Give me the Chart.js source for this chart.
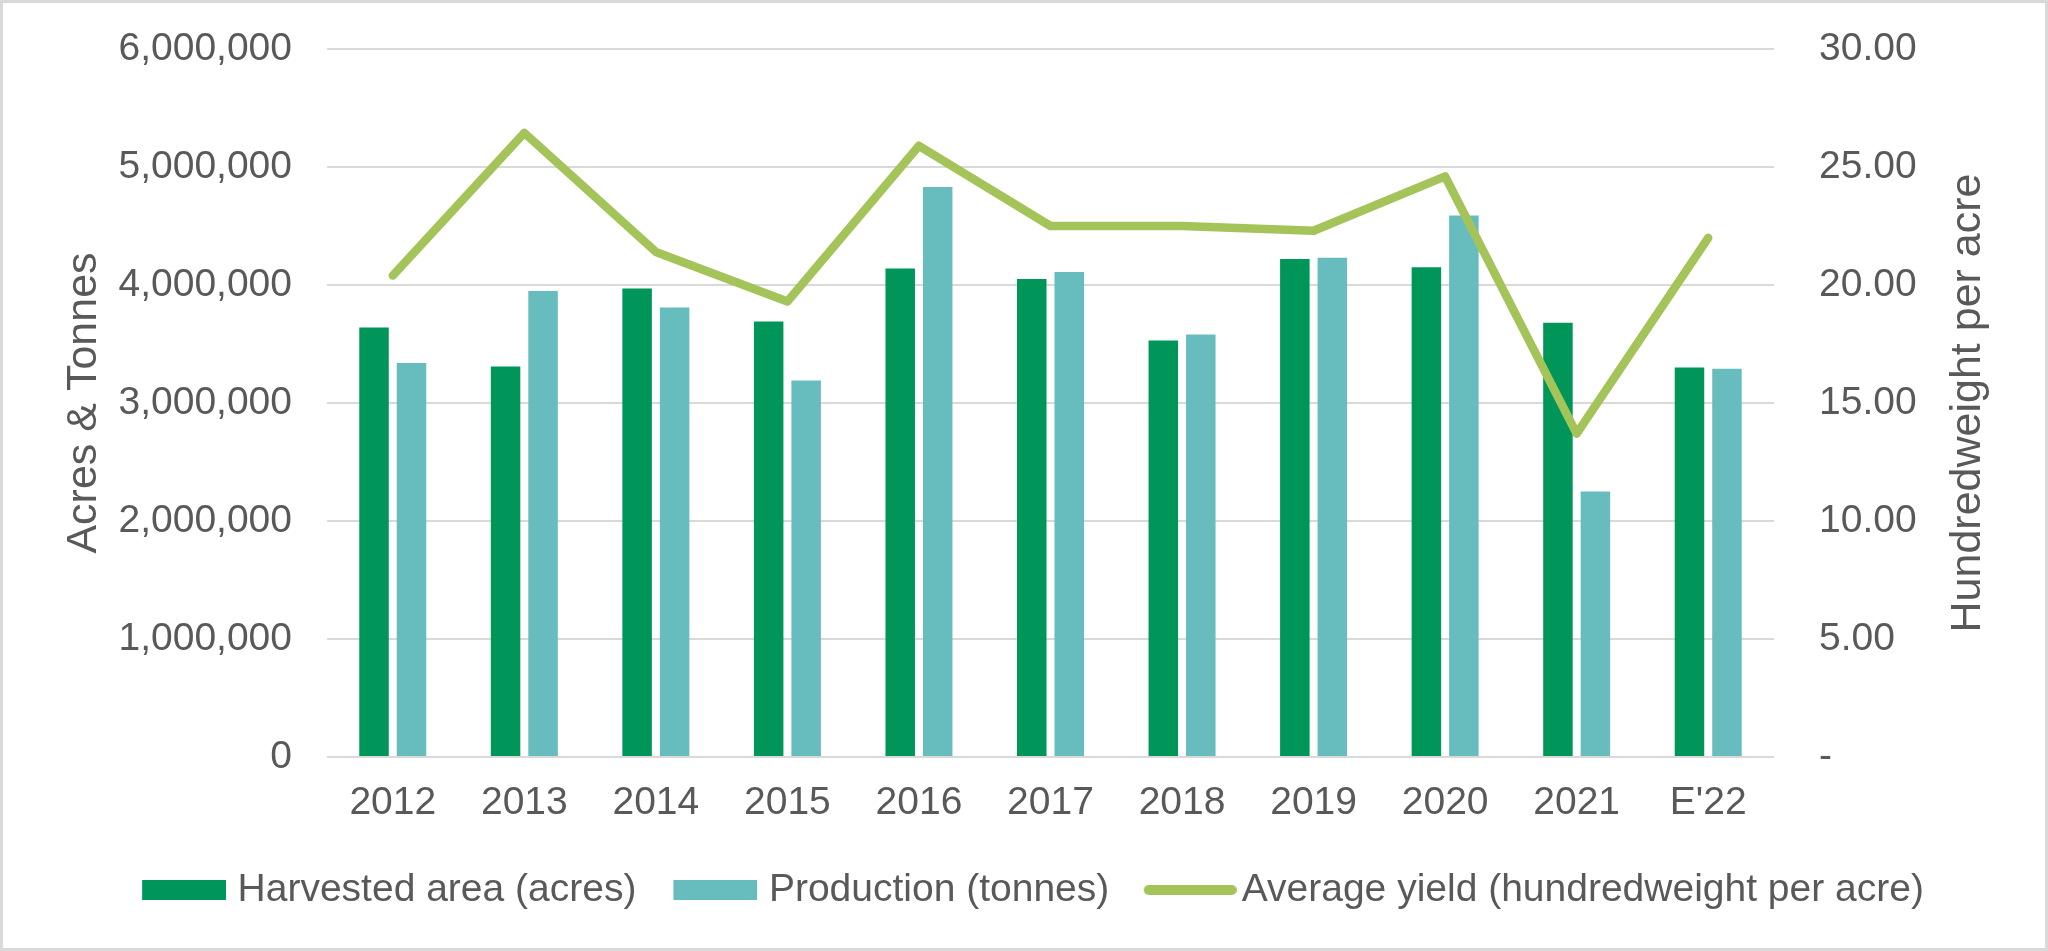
<!DOCTYPE html>
<html>
<head>
<meta charset="utf-8">
<script src="https://cdn.jsdelivr.net/npm/chart.js@4.4.1/dist/chart.umd.min.js"></script>
<style>
  html, body { margin: 0; padding: 0; background: #fff; }
  #wrap { width: 2048px; height: 951px; box-sizing: border-box; border: 3px solid #d9d9d9; }
  #box { position: relative; width: 2042px; height: 945px; }
</style>
</head>
<body>
<div id="wrap"><div id="box"><canvas id="chart"></canvas></div></div>
<script>
const years = ["2012", "2013", "2014", "2015", "2016", "2017", "2018", "2019", "2020", "2021", "E'22"];
const harvestedArea = [3640000, 3310000, 3970000, 3690000, 4140000, 4050000, 3530000, 4220000, 4150000, 3680000, 3300000];
const production = [3340000, 3950000, 3810000, 3190000, 4830000, 4110000, 3580000, 4230000, 4590000, 2250000, 3290000];
const averageYield = [20.4, 26.45, 21.4, 19.3, 25.9, 22.5, 22.5, 22.3, 24.6, 13.7, 22.0];

const leftTicks = [0, 1000000, 2000000, 3000000, 4000000, 5000000, 6000000];
const rightTicks = [0, 5, 10, 15, 20, 25, 30];

const textColor = "#595959";
const fontFamily = "'Liberation Sans', Arial, sans-serif";
const green = "#00965A";
const teal = "#67BDBE";
const lime = "#A4C45A";

// legend keys as small canvases, so the key-to-text gap is like Excel's
function rectKey(color) {
  const c = document.createElement("canvas");
  c.width = 92; c.height = 20;
  const g = c.getContext("2d");
  g.fillStyle = color;
  g.fillRect(8, 0, 84, 20);
  return c;
}
function lineKey(color) {
  const c = document.createElement("canvas");
  c.width = 105; c.height = 12;
  const g = c.getContext("2d");
  g.strokeStyle = color;
  g.lineWidth = 10;
  g.lineCap = "round";
  g.beginPath();
  g.moveTo(17, 6);
  g.lineTo(100, 6);
  g.stroke();
  return c;
}

// right axis title reads bottom-to-top in the original, so draw it ourselves
const rightTitle = {
  id: "rightTitle",
  afterDraw(chart) {
    const s = chart.scales.y1;
    const ctx = chart.ctx;
    ctx.save();
    ctx.translate(s.right - 77, (chart.chartArea.top + chart.chartArea.bottom) / 2);
    ctx.rotate(-Math.PI / 2);
    ctx.font = "43px " + fontFamily;
    ctx.fillStyle = textColor;
    ctx.textAlign = "center";
    ctx.textBaseline = "middle";
    ctx.fillText("Hundredweight per acre", 0, 0);
    ctx.restore();
  }
};

// fixed axis sizes so the plot area sits where the original has it
function fixWidth(w) {
  return s => {
    s.width = w;
    s.paddingTop = 0;
    s.paddingBottom = 0;
  };
}

new Chart(document.getElementById("chart"), {
  data: {
    labels: years,
    datasets: [
      {
        type: "bar",
        label: "Harvested area (acres)",
        data: harvestedArea,
        backgroundColor: green,
        borderWidth: 0,
        pointStyle: rectKey(green),
        yAxisID: "y",
        order: 1,
        categoryPercentage: 0.57,
        barPercentage: 0.787
      },
      {
        type: "bar",
        label: "Production (tonnes)",
        data: production,
        backgroundColor: teal,
        borderWidth: 0,
        pointStyle: rectKey(teal),
        yAxisID: "y",
        order: 1,
        categoryPercentage: 0.57,
        barPercentage: 0.787
      },
      {
        type: "line",
        label: "Average yield (hundredweight per acre)",
        data: averageYield,
        borderColor: lime,
        backgroundColor: lime,
        borderWidth: 8.5,
        borderCapStyle: "round",
        borderJoinStyle: "round",
        pointStyle: lineKey(lime),
        pointRadius: 0,
        tension: 0,
        yAxisID: "y1",
        order: 0
      }
    ]
  },
  options: {
    responsive: true,
    maintainAspectRatio: false,
    animation: false,
    layout: { padding: { top: 46, bottom: 28.5, left: 18, right: 0 } },
    plugins: {
      tooltip: { enabled: false },
      legend: {
        position: "bottom",
        labels: {
          usePointStyle: true,
          pointStyleWidth: 76,
          boxHeight: 20,
          padding: 37,
          color: textColor,
          font: { size: 39, family: fontFamily },
          sort: (a, b) => a.datasetIndex - b.datasetIndex
        }
      }
    },
    scales: {
      x: {
        grid: { display: false, drawTicks: false },
        border: { display: false },
        ticks: { color: textColor, font: { size: 39, family: fontFamily }, padding: 23 },
        afterFit: s => { s.height = 76.5; }
      },
      y: {
        position: "left",
        min: 0,
        max: 6000000,
        afterBuildTicks: s => { s.ticks = leftTicks.map(v => ({ value: v })); },
        grid: { color: "#d9d9d9", lineWidth: 2, drawTicks: false },
        border: { display: false },
        ticks: {
          color: textColor,
          font: { size: 39, family: fontFamily },
          padding: 35,
          callback: v => v.toLocaleString("en-US")
        },
        title: {
          display: true,
          text: "Acres & Tonnes",
          color: textColor,
          font: { size: 43, family: fontFamily },
          padding: { top: 37 }
        },
        afterFit: fixWidth(306)
      },
      y1: {
        position: "right",
        min: 0,
        max: 30,
        afterBuildTicks: s => { s.ticks = rightTicks.map(v => ({ value: v })); },
        grid: { display: false, drawTicks: false },
        border: { display: false },
        ticks: {
          color: textColor,
          font: { size: 39, family: fontFamily },
          padding: 45,
          callback: v => v === 0 ? "-" : v.toFixed(2)
        },
        afterFit: fixWidth(271)
      }
    }
  },
  plugins: [rightTitle]
});
</script>
</body>
</html>
